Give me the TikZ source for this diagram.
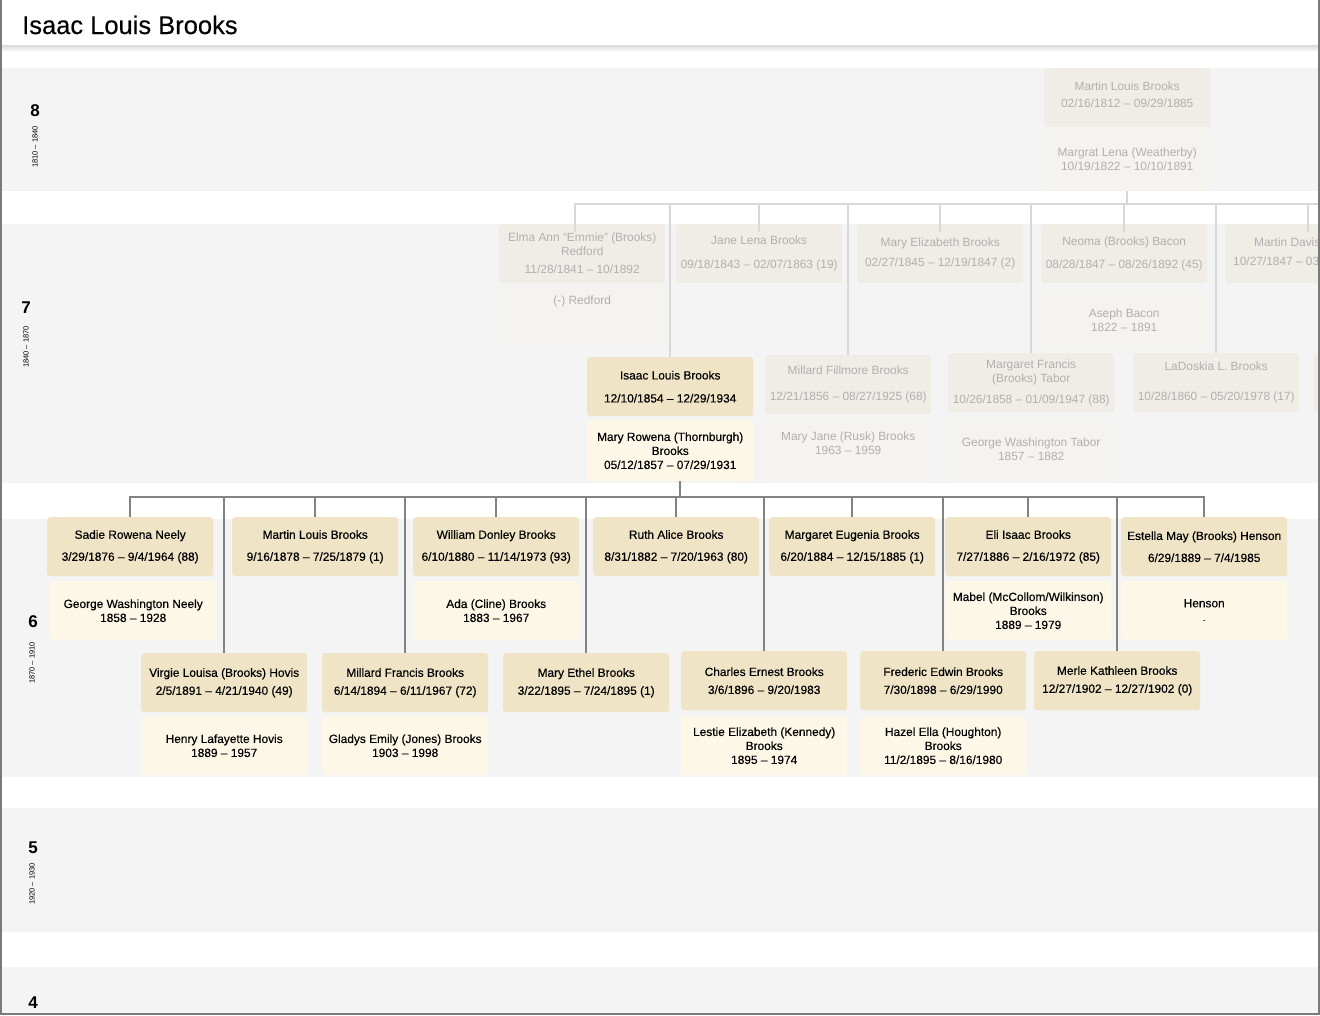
\documentclass[tikz,border=0pt]{standalone}
\usepackage{fontspec}
\setmainfont{Liberation Sans}
\newfontfamily\heavyfont[FakeBold=0.35]{Liberation Sans}
\usetikzlibrary{positioning}
\definecolor{band}{HTML}{F4F4F4}
\definecolor{bloodfill}{HTML}{F0E4C6}
\definecolor{matefill}{HTML}{FDF7E8}
\definecolor{fadefill}{HTML}{F0EDE7}
\definecolor{fademate}{HTML}{F5F3EF}
\definecolor{fadetext}{HTML}{B0B0B0}
\definecolor{linegray}{HTML}{838383}
\definecolor{fadegray}{HTML}{D8D8D8}
\definecolor{framegray}{HTML}{7A7A7A}
\newcommand{\boxfont}{\fontsize{11.9}{14}\selectfont}

\tikzset{
  person/.style={anchor=north west, rounded corners=3pt, minimum width=166pt,
    minimum height=59pt, inner sep=0pt, align=center, font=\boxfont},
  blood/.style={person, fill=bloodfill, font=\heavyfont\boxfont},
  mate/.style={person, fill=matefill, font=\heavyfont\boxfont},
  faded/.style={person, fill=fadefill, text=fadetext},
  fadedmate/.style={person, fill=fademate, text=fadetext, minimum height=62pt},
  fadetxt/.style={anchor=base west, inner sep=0pt, font=\boxfont, text=fadetext},
  kinline/.style={draw=linegray, line width=1.8pt},
  fadeline/.style={draw=fadegray, line width=1.8pt},
  gennum/.style={font=\fontsize{17}{17}\selectfont\bfseries},
  genyears/.style={font=\fontsize{7.5}{8}\selectfont, rotate=90}
}

\begin{document}
\begin{tikzpicture}[x=1pt,y=-1pt]
\clip (0,0) rectangle (1320,1015);
\fill[white] (0,0) rectangle (1320,1015);

\fill[band] (0,68) rectangle (1320,191);
\fill[band] (0,224) rectangle (1320,483);
\fill[band] (0,519) rectangle (1320,777);
\fill[band] (0,808) rectangle (1320,932);
\fill[band] (0,967) rectangle (1320,1015);

\shade[top color=black!14, bottom color=white] (0,45) rectangle (1320,52);
\node[anchor=base west, inner sep=0pt, font=\heavyfont\fontsize{25.5}{30}\selectfont] (title) at (22,34) {Isaac Louis Brooks};

\node[gennum] (g8) at (35,111) {8};
\node[genyears] (g8y) at (35,147) {1810 – 1840};
\node[gennum] (g7) at (26,308) {7};
\node[genyears] (g7y) at (26,347) {1840 – 1870};
\node[gennum] (g6) at (33,622) {6};
\node[genyears] (g6y) at (32,663) {1870 – 1910};
\node[gennum] (g5) at (33,848) {5};
\node[genyears] (g5y) at (32,884) {1920 – 1930};
\node[gennum] (g4) at (33,1003) {4};

% generation 8
\node[faded, text depth=6pt] (martin) at (1044,68) {Martin Louis Brooks\\[3pt]02/16/1812 – 09/29/1885};
\node[fadedmate, minimum height=63pt] (margrat) at (1044,128) {Margrat Lena (Weatherby)\\10/19/1822 – 10/10/1891};

% generation 7
\node[faded] (elma) at (499,224) {Elma Ann “Emmie” (Brooks)\\Redford\\[4pt]11/28/1841 – 10/1892};
\node[fadedmate, minimum height=61pt, text height=20pt, text depth=41pt] (redford) at (499,284) {(-) Redford};
\node[faded] (janelena) at (676,224) {Jane Lena Brooks\\[10pt]09/18/1843 – 02/07/1863 (19)};
\node[faded] (maryeliz) at (857,224) {Mary Elizabeth Brooks\\[6pt]02/27/1845 – 12/19/1847 (2)};
\node[faded] (neoma) at (1041,224) {Neoma (Brooks) Bacon\\[9pt]08/28/1847 – 08/26/1892 (45)};
\node[fadedmate, minimum height=60pt] (aseph) at (1041,290) {Aseph Bacon\\1822 – 1891};
\node[faded] (mdavis) at (1225,224) {};
\node[fadetxt] (mdavisname) at (1254,246) {Martin Davis};
\node[fadetxt] (mdavisdates) at (1233,265) {10/27/1847 – 03/};

\node[blood] (isaac) at (587,357) {Isaac Louis Brooks\\[9pt]12/10/1854 – 12/29/1934};
\node[mate, minimum height=61pt] (rowena) at (587,420) {Mary Rowena (Thornburgh)\\Brooks\\05/12/1857 – 07/29/1931};
\node[faded] (millard) at (765,355) {Millard Fillmore Brooks\\[12pt]12/21/1856 – 08/27/1925 (68)};
\node[fadedmate, text depth=12pt] (rusk) at (765,418) {Mary Jane (Rusk) Brooks\\1963 – 1959};
\node[faded] (margaret) at (948,353) {Margaret Francis\\(Brooks) Tabor\\[7pt]10/26/1858 – 01/09/1947 (88)};
\node[fadedmate] (gwtabor) at (948,418) {George Washington Tabor\\1857 – 1882};
\node[faded] (ladoskia) at (1133,353) {LaDoskia L. Brooks\\[16pt]10/28/1860 – 05/20/1978 (17)};
\node[faded] (nextsib) at (1314,353) {};

% generation 6
\node[blood] (sadie) at (47,517) {Sadie Rowena Neely\\[8pt]3/29/1876 – 9/4/1964 (88)};
\node[mate] (gwneely) at (50,581) {George Washington Neely\\1858 – 1928};
\node[blood] (martinlb) at (232,517) {Martin Louis Brooks\\[8pt]9/16/1878 – 7/25/1879 (1)};
\node[blood] (william) at (413,517) {William Donley Brooks\\[8pt]6/10/1880 – 11/14/1973 (93)};
\node[mate] (ada) at (413,581) {Ada (Cline) Brooks\\1883 – 1967};
\node[blood] (ruth) at (593,517) {Ruth Alice Brooks\\[8pt]8/31/1882 – 7/20/1963 (80)};
\node[blood] (eugenia) at (769,517) {Margaret Eugenia Brooks\\[8pt]6/20/1884 – 12/15/1885 (1)};
\node[blood] (eli) at (945,517) {Eli Isaac Brooks\\[8pt]7/27/1886 – 2/16/1972 (85)};
\node[mate] (mabel) at (945,581) {Mabel (McCollom/Wilkinson)\\Brooks\\1889 – 1979};
\node[blood] (estella) at (1121,517) {Estella May (Brooks) Henson\\[8pt]6/29/1889 – 7/4/1985};
\node[mate] (henson) at (1121,581) {Henson\\[1pt]{\scriptsize -}};

\node[blood] (virgie) at (141,653) {Virgie Louisa (Brooks) Hovis\\[4pt]2/5/1891 – 4/21/1940 (49)};
\node[mate] (hovis) at (141,716) {Henry Lafayette Hovis\\1889 – 1957};
\node[blood] (millardf) at (322,653) {Millard Francis Brooks\\[4pt]6/14/1894 – 6/11/1967 (72)};
\node[mate] (gladys) at (322,716) {Gladys Emily (Jones) Brooks\\1903 – 1998};
\node[blood] (ethel) at (503,653) {Mary Ethel Brooks\\[4pt]3/22/1895 – 7/24/1895 (1)};
\node[blood] (charles) at (681,651) {Charles Ernest Brooks\\[4pt]3/6/1896 – 9/20/1983};
\node[mate] (lestie) at (681,716) {Lestie Elizabeth (Kennedy)\\Brooks\\1895 – 1974};
\node[blood] (frederic) at (860,651) {Frederic Edwin Brooks\\[4pt]7/30/1898 – 6/29/1990};
\node[mate] (hazel) at (860,716) {Hazel Ella (Houghton)\\Brooks\\11/2/1895 – 8/16/1980};
\node[blood] (merle) at (1034,651) {Merle Kathleen Brooks\\[4pt]12/27/1902 – 12/27/1902 (0)};

% connectors
\coordinate (bus7) at (1320,204);
\draw[fadeline] (margrat.south) -- (margrat.south |- bus7);
\draw[fadeline] ([xshift=-7pt,yshift=-8pt]elma.north) -- ([xshift=-7pt]elma.north |- bus7) -- (bus7);
\foreach \c in {janelena,maryeliz,neoma,mdavis}
  \draw[fadeline] (\c.north |- bus7) -- ([yshift=-8pt]\c.north);
\foreach \c in {isaac,millard,margaret,ladoskia}
  \draw[fadeline] (\c.north |- bus7) -- (\c.north);

\coordinate (bus6) at (0,497);
\draw[kinline] ([xshift=10pt]rowena.south) -- ([xshift=10pt]rowena.south |- bus6);
\draw[kinline] (sadie.north) -- (sadie.north |- bus6) -- (estella.north |- bus6) -- (estella.north);
\foreach \c in {martinlb,william,ruth,eugenia,eli,virgie,millardf,ethel,charles,frederic,merle}
  \draw[kinline] (\c.north |- bus6) -- (\c.north);

\draw[framegray, line width=1.5pt] (1,0) -- (1,1014) -- (1319,1014) -- (1319,0);
\end{tikzpicture}
\end{document}
